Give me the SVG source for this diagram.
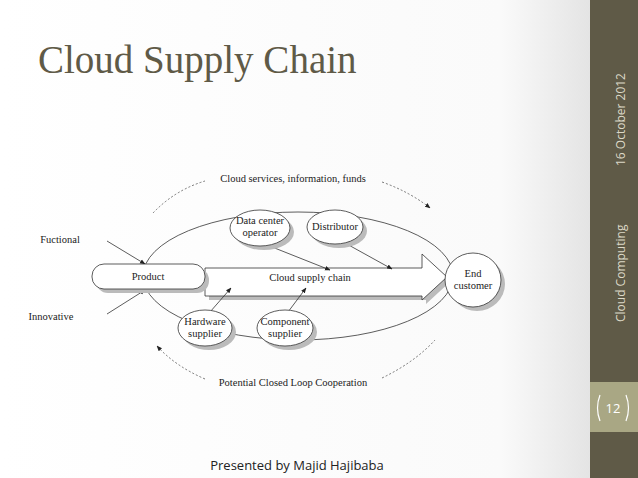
<svg xmlns="http://www.w3.org/2000/svg" width="638" height="478" viewBox="0 0 638 478">
<defs>
<linearGradient id="bg" x1="0" x2="1" y1="0" y2="0"><stop offset="0" stop-color="#ffffff"/><stop offset="0.85" stop-color="#fafafa"/><stop offset="1" stop-color="#e4e4e4"/></linearGradient>
<marker id="ah" viewBox="0 0 10 10" refX="9" refY="5" markerWidth="7" markerHeight="7" orient="auto"><path d="M0,1 L10,5 L0,9 z" fill="#222"/></marker>
<style>
.t{font-family:"Liberation Serif",serif;font-size:10.5px;fill:#222;text-anchor:middle}
.n{fill:#fff;stroke:#333;stroke-width:0.8}
.s{fill:#bbb}
.l{stroke:#333;stroke-width:0.8;fill:none}
.d{stroke:#555;stroke-width:0.8;fill:none;stroke-dasharray:2,2}
</style>
</defs>
<rect width="590" height="478" fill="url(#bg)"/>
<rect x="590" width="48" height="478" fill="#5f5a47"/>
<rect x="590" y="382" width="48" height="50" fill="#a9a784"/>
<text x="38" y="73" font-family="Liberation Serif,serif" font-size="39" fill="#5f5a47">Cloud Supply Chain</text>
<text transform="translate(625,166) rotate(-90)" font-family="Open Sans,sans-serif" font-size="12" fill="#ddd9c8">16 October 2012</text>
<text transform="translate(625,322) rotate(-90)" font-family="Open Sans,sans-serif" font-size="12" fill="#ddd9c8">Cloud Computing</text>
<path d="M600,395 q-5,13 0,26 M626,395 q5,13 0,26" stroke="#fff" stroke-width="1.2" fill="none"/>
<text x="613" y="413" font-family="Open Sans,sans-serif" font-size="13" fill="#fff" text-anchor="middle">12</text>
<text x="297" y="470" font-family="Open Sans,sans-serif" font-size="13" fill="#222" text-anchor="middle">Presented by Majid Hajibaba</text>
<g id="loop"><ellipse cx="298" cy="276" rx="155" ry="64" class="l"/></g>
<g id="chain">
<path d="M209,272 H426 V258 L451,281 L426,304 V300 H209 z" class="s"/>
<path d="M205,268 H422 V254 L447,277 L422,300 V296 H205 z" class="n"/>
<text x="310" y="281" class="t">Cloud supply chain</text>
</g>
<g id="connectors">
<path d="M153,213 Q175,190 205,181" class="d"/>
<path d="M382,182 Q410,192 430,208" class="d" marker-end="url(#ah)"/>
<path d="M205,379 Q175,366 157,346" class="d" marker-end="url(#ah)"/>
<path d="M382,378 Q415,362 435,340" class="d"/>
<line x1="107" y1="241" x2="145" y2="264" class="l" marker-end="url(#ah)"/>
<line x1="107" y1="314" x2="145" y2="290" class="l" marker-end="url(#ah)"/>
<line x1="262" y1="243" x2="330" y2="270" class="l" marker-end="url(#ah)"/>
<line x1="345" y1="243" x2="392" y2="269" class="l" marker-end="url(#ah)"/>
<line x1="210" y1="312" x2="231" y2="288" class="l" marker-end="url(#ah)"/>
<line x1="288" y1="312" x2="306" y2="288" class="l" marker-end="url(#ah)"/>
</g>
<g id="product"><rect x="96" y="268" width="113" height="25" rx="12" class="s"/><rect x="92" y="264" width="113" height="25" rx="12" class="n"/><text x="148" y="280" class="t">Product</text></g>
<g id="end"><ellipse cx="477" cy="284" rx="28" ry="27" class="s"/><ellipse cx="473" cy="280" rx="28" ry="27" class="n"/><text x="473" y="277" class="t">End</text><text x="473" y="289" class="t">customer</text></g>
<g id="dco"><ellipse cx="264" cy="232" rx="30" ry="18" class="s"/><ellipse cx="260" cy="228" rx="30" ry="18" class="n"/><text x="260" y="224" class="t">Data center</text><text x="260" y="236" class="t">operator</text></g>
<g id="dist"><ellipse cx="339" cy="231" rx="28" ry="17" class="s"/><ellipse cx="335" cy="227" rx="28" ry="17" class="n"/><text x="335" y="230" class="t">Distributor</text></g>
<g id="hw"><ellipse cx="209" cy="332" rx="27" ry="18" class="s"/><ellipse cx="205" cy="328" rx="27" ry="18" class="n"/><text x="205" y="325" class="t">Hardware</text><text x="205" y="337" class="t">supplier</text></g>
<g id="comp"><ellipse cx="289" cy="332" rx="28" ry="18" class="s"/><ellipse cx="285" cy="328" rx="28" ry="18" class="n"/><text x="285" y="325" class="t">Component</text><text x="285" y="337" class="t">supplier</text></g>
<text x="293" y="182" class="t" font-size="11">Cloud services, information, funds</text>
<text x="293" y="386" class="t" font-size="11">Potential Closed Loop Cooperation</text>
<text x="60" y="243" class="t" font-size="11">Fuctional</text>
<text x="51" y="320" class="t" font-size="11">Innovative</text>
</svg>
